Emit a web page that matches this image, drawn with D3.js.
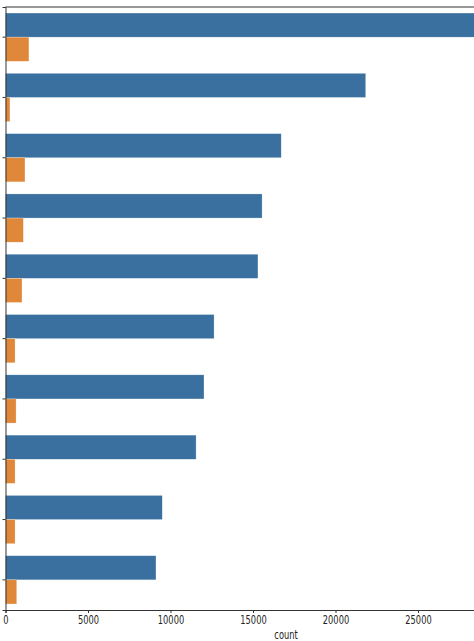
<!DOCTYPE html>
<html>
<head>
<meta charset="utf-8">
<script src="https://cdn.jsdelivr.net/npm/d3@7/dist/d3.min.js"></script>
<style>
html,body{margin:0;padding:0;background:#fff;overflow:hidden;}
svg{display:block;}
text{font-family:"DejaVu Sans",sans-serif;fill:#222;}
</style>
</head>
<body>
<div id="chart"></div>
<script>
const categories = ["c0","c1","c2","c3","c4","c5","c6","c7","c8","c9"];
const seriesNames = ["0","1"];
const seriesA = [32400, 21830, 16710, 15550, 15300, 12640, 12030, 11550, 9500, 9120];
const seriesB = [1420, 270, 1180, 1080, 1000, 580, 640, 580, 580, 680];
const xTicks = [0, 5000, 10000, 15000, 20000, 25000];
const colors = ["#3a70a0", "#e0883a"];
const xLabel = "count";

(function(){
const W = 474, H = 641;
const mLeft = 5.5, mTop = 7, mBottom = 610, mRight = 566.5;

const svg = d3.select("#chart").append("svg").attr("width", W).attr("height", H);

const x = d3.scaleLinear().domain([0, 34000]).range([mLeft, mRight]);
const y = d3.scaleBand().domain(categories).range([mTop, mBottom]).paddingInner(0.2).paddingOuter(0.1);
const y0 = d3.scaleBand().domain(categories).range([mTop, mBottom]);
const inner = d3.scaleBand().domain(seriesNames).range([0, y.bandwidth()]);

const rows = categories.map((c, i) => ({cat: c, vals: [seriesA[i], seriesB[i]]}));

const g = svg.append("g");
rows.forEach(r => {
  r.vals.forEach((v, k) => {
    g.append("rect")
      .attr("x", x(0))
      .attr("y", y(r.cat) + inner(seriesNames[k]))
      .attr("width", x(v) - x(0))
      .attr("height", inner.bandwidth())
      .attr("fill", colors[k])
      .attr("stroke", "#ffffff")
      .attr("stroke-opacity", 0.5)
      .attr("stroke-width", 0.5);
  });
});

// x axis
const xAxis = d3.axisBottom(x).tickValues(xTicks).tickSize(3).tickPadding(3).tickFormat(d3.format("d"));
const xa = svg.append("g").attr("transform", `translate(0,${mBottom})`).call(xAxis);
xa.select(".domain").attr("stroke", "#333").attr("stroke-width", 1);
xa.selectAll(".tick line").attr("stroke", "#333");
xa.selectAll(".tick text").attr("font-size", 11.5).attr("fill", "#222")
  .attr("transform", "scale(0.72,1)");

// y axis
const yAxis = d3.axisLeft(y0).tickSize(3).tickFormat("");
const ya = svg.append("g").attr("transform", `translate(${mLeft},0)`).call(yAxis);
ya.select(".domain").attr("stroke", "#333").attr("stroke-width", 1);
ya.selectAll(".tick line").attr("stroke", "#333");

// top spine
svg.append("line").attr("x1", mLeft).attr("x2", mRight).attr("y1", mTop).attr("y2", mTop)
  .attr("stroke", "#333").attr("stroke-width", 1);

// x label
const lx = (mLeft + mRight) / 2;
svg.append("text").attr("x", 0).attr("y", 0).attr("text-anchor", "middle")
  .attr("font-size", 11.5)
  .attr("transform", `translate(${lx},639) scale(0.72,1)`)
  .text(xLabel);
})();
</script>
</body>
</html>
